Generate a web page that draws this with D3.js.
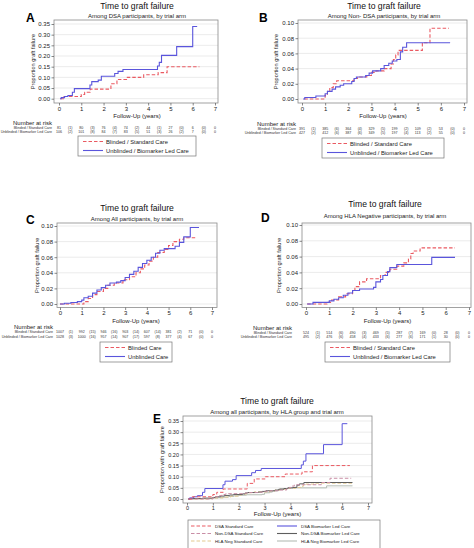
<!DOCTYPE html>
<html><head><meta charset="utf-8">
<script src="https://cdn.jsdelivr.net/npm/d3@7"></script>
<style>body{margin:0;background:#fff}svg{display:block;font-family:"Liberation Sans",Arial,sans-serif}</style>
</head><body><svg id="c" width="474" height="548"></svg>
<script>
// ---------------- DATA ----------------
const xTicks = [0,1,2,3,4,5,6,7];
const yTicksDSA = [0,0.05,0.10,0.15,0.20,0.25,0.30,0.35];
const yTicksSmall = [0,0.02,0.04,0.06,0.08,0.10];

// Panel A: DSA participants
const dsaStandard = [[0.05,0],[0.2,0.01],[1.0,0.02],[1.15,0.03],[1.4,0.045],[2.33,0.07],[2.6,0.09],[3.03,0.10],[3.8,0.112],[4.45,0.122],[4.85,0.15],[6.3,0.15]];
const dsaBiomarker = [[0.05,0],[0.1,0.005],[0.25,0.01],[0.4,0.015],[0.6,0.03],[0.69,0.047],[1.39,0.064],[1.47,0.08],[1.76,0.087],[1.9,0.105],[2.5,0.118],[2.65,0.128],[2.87,0.137],[4.42,0.153],[4.5,0.17],[4.6,0.203],[5.28,0.244],[6.0,0.338],[6.2,0.338]];
const riskA_std = [81,80,76,74,44,27,6,0];
const eventsA_std = [1,3,4,2,1,0,0];
const riskA_bio = [106,101,84,83,51,26,7,0];
const eventsA_bio = [2,8,7,5,3,2,0];

// Panel B: Non-DSA participants
const nonDsaStandard = [[0.1,0],[1.0,0.005],[1.1,0.01],[1.2,0.015],[1.35,0.02],[1.5,0.024],[2.25,0.027],[2.4,0.029],[2.8,0.031],[3.0,0.035],[3.2,0.037],[3.55,0.040],[3.85,0.046],[3.95,0.052],[4.05,0.058],[4.15,0.064],[5.2,0.074],[5.53,0.093],[6.35,0.093]];
const nonDsaBiomarker = [[0.05,0],[0.12,0.002],[0.6,0.004],[1.0,0.007],[1.1,0.01],[1.3,0.013],[1.45,0.016],[1.65,0.018],[1.8,0.02],[2.15,0.023],[2.25,0.027],[2.35,0.029],[2.75,0.031],[2.9,0.034],[3.05,0.037],[3.4,0.04],[3.55,0.044],[3.75,0.047],[3.9,0.05],[4.1,0.052],[4.25,0.062],[4.35,0.068],[4.52,0.074],[6.4,0.074]];
const riskB_std = [391,385,364,329,199,109,53,0];
const eventsB_std = [1,6,4,5,2,2,0];
const riskB_bio = [427,412,387,349,197,113,55,0];
const eventsB_bio = [2,6,6,5,4,2,0];

// Panel C: All participants
const allStandard = [[0.0,0],[1.1,0.003],[1.3,0.007],[1.5,0.012],[1.7,0.016],[2.0,0.02],[2.2,0.024],[2.5,0.027],[2.9,0.031],[3.2,0.035],[3.5,0.04],[3.7,0.045],[3.9,0.05],[4.1,0.055],[4.3,0.06],[4.5,0.066],[4.8,0.07],[5.0,0.075],[5.2,0.08],[5.5,0.083],[5.7,0.085],[6.3,0.085]];
const allBiomarker = [[0.0,0],[0.2,0.001],[0.5,0.002],[0.8,0.003],[1.0,0.005],[1.1,0.008],[1.3,0.01],[1.5,0.014],[1.7,0.018],[1.9,0.021],[2.1,0.024],[2.3,0.027],[2.6,0.028],[2.8,0.03],[3.0,0.034],[3.2,0.038],[3.4,0.042],[3.6,0.047],[3.8,0.052],[4.0,0.056],[4.2,0.06],[4.4,0.065],[4.6,0.069],[4.8,0.071],[5.3,0.074],[5.5,0.079],[5.7,0.086],[6.0,0.098],[6.4,0.098]];
const riskC_std = [1007,992,946,903,607,381,71,0];
const eventsC_std = [1,15,16,14,14,2,0];
const riskC_bio = [1028,1000,957,907,597,377,67,0];
const eventsC_bio = [3,16,14,17,8,4,0];

// Panel D: HLA negative participants
const hlaNegStandard = [[0.05,0],[0.9,0.002],[1.1,0.005],[1.4,0.009],[1.7,0.013],[2.0,0.017],[2.1,0.022],[2.3,0.028],[2.6,0.032],[3.2,0.036],[3.4,0.04],[3.6,0.044],[3.9,0.048],[4.2,0.052],[4.4,0.057],[4.5,0.064],[4.6,0.067],[4.9,0.071],[6.4,0.071]];
const hlaNegBiomarker = [[0.05,0],[0.3,0.002],[1.0,0.004],[1.2,0.006],[1.4,0.008],[1.6,0.011],[1.8,0.014],[2.0,0.017],[2.3,0.019],[2.9,0.021],[3.0,0.028],[3.2,0.031],[3.3,0.036],[3.5,0.041],[3.6,0.046],[3.9,0.05],[5.4,0.059],[6.4,0.059]];
const riskD_std = [524,514,490,469,287,169,28,0];
const eventsD_std = [1,6,3,5,7,0,0];
const riskD_bio = [495,476,458,433,277,171,30,0];
const eventsD_bio = [2,6,4,6,6,1,0];

const armLabels = ["Blinded / Standard Care","Unblinded / Biomarker Led Care"];
const armLabelsC = ["Blinded Care","Unblinded Care"];
const groupLabelsE = ["DSA Standard Care","DSA Biomarker Led Care","Non-DSA Standard Care","Non-DSA Biomarker Led Care","HLA Neg Standard Care","HLA Neg Biomarker Led Care"];

// ---------------- STYLE ----------------
const RED = "#ea5a62", BLUE = "#5a55dc";
const DASH = "3.5,2";
const FONT = '"Liberation Sans",Arial,sans-serif';
const svg = d3.select("#c");

function panel(c) {
  const g = svg.append("g");
  const x = d3.scaleLinear().domain([0,7]).range(c.xr);
  const y = d3.scaleLinear().domain([0,c.yMax]).range(c.yr);
  const [fx0,fy0,fx1,fy1] = c.frame;
  // grid
  g.selectAll(".grid").data(c.yTicks).join("line")
    .attr("x1",fx0).attr("x2",fx1).attr("y1",d=>y(d)).attr("y2",d=>y(d))
    .attr("stroke","#e6e6e6").attr("stroke-width",0.8);
  // frame
  g.append("rect").attr("x",fx0).attr("y",fy0).attr("width",fx1-fx0).attr("height",fy1-fy0)
    .attr("fill","none").attr("stroke","#8a8a8a").attr("stroke-width",0.8);
  // axes
  const ya = g.append("g").attr("transform",`translate(${fx0},0)`)
    .call(d3.axisLeft(y).tickValues(c.yTicks).tickSize(2.5).tickPadding(1.5).tickFormat(d3.format(".2f")));
  const xa = g.append("g").attr("transform",`translate(0,${fy1})`)
    .call(d3.axisBottom(x).tickValues(xTicks).tickSize(2.5).tickPadding(1).tickFormat(d3.format("d")));
  [ya,xa].forEach(a=>{a.select(".domain").remove();
    a.selectAll("line").attr("stroke","#555").attr("stroke-width",0.7);
    a.selectAll("text").attr("font-size",c.tickFs||6).attr("fill","#222").attr("font-family",FONT);});
  // lines
  const line = d3.line().x(d=>x(d[0])).y(d=>y(d[1])).curve(d3.curveStepAfter);
  c.series.forEach(s=>{
    g.append("path").attr("d",line(s.data)).attr("fill","none").attr("stroke",s.color)
      .attr("stroke-width",s.w||1.1).attr("stroke-dasharray",s.dash?DASH:null);
  });
  // titles
  g.append("text").attr("x",c.tx).attr("y",c.ty).attr("text-anchor","middle").attr("font-size",8.6).attr("fill","#111").text("Time to graft failure");
  g.append("text").attr("x",c.tx).attr("y",c.sy).attr("text-anchor","middle").attr("font-size",6).attr("fill","#222").text(c.subtitle);
  g.append("text").attr("x",c.lx).attr("y",c.ly).attr("font-size",12).attr("font-weight","bold").attr("fill","#000").text(c.letter);
  g.append("text").attr("transform",`translate(${c.ylx},${(fy0+fy1)/2}) rotate(-90)`).attr("text-anchor","middle")
    .attr("font-size",5.6).attr("fill","#222").text(c.ylabel);
  g.append("text").attr("x",(x(0)+x(7))/2).attr("y",c.xty).attr("text-anchor","middle").attr("font-size",6).attr("fill","#222").text("Follow-Up (years)");
  // risk table
  if (c.risk) {
    const r = c.risk;
    g.append("text").attr("x",r.lx).attr("y",r.hy).attr("text-anchor","end").attr("font-size",6).attr("fill","#222").text("Number at risk");
    r.rows.forEach((row,i)=>{
      const yy = r.ry[i];
      g.append("text").attr("x",r.lx).attr("y",yy).attr("text-anchor","end").attr("font-size",3.6).attr("fill","#333").text(armLabels[i]);
      g.selectAll(null).data(row.n).join("text").attr("x",(d,j)=>x(j)).attr("y",yy).attr("text-anchor","middle")
        .attr("font-size",3.6).attr("fill","#333").text(d=>d);
      g.selectAll(null).data(row.e).join("text").attr("x",(d,j)=>x(j+0.5)).attr("y",yy).attr("text-anchor","middle")
        .attr("font-size",3.6).attr("fill","#333").text(d=>`(${d})`);
    });
  }
  // legend
  if (c.legend) {
    const L = c.legend;
    const cols = L.cols || 1, colW = L.colW || 0;
    g.append("rect").attr("x",L.x).attr("y",L.y).attr("width",L.w).attr("height",L.h)
      .attr("fill","#fff").attr("stroke","#777").attr("stroke-width",0.7);
    L.items.forEach((it,i)=>{
      const col = i%cols, row = Math.floor(i/cols);
      const ix = L.x + L.pad + col*colW, iy = L.y + L.first + row*L.rowH;
      g.append("line").attr("x1",ix).attr("x2",ix+L.lineW).attr("y1",iy).attr("y2",iy)
        .attr("stroke",it.color).attr("stroke-width",1.1).attr("stroke-dasharray",it.dash?DASH:null);
      g.append("text").attr("x",ix+L.lineW+L.gap).attr("y",iy).attr("dy","0.35em").attr("font-size",L.fs)
        .attr("fill","#222").text(it.label);
    });
  }
}

// Panel A
panel({letter:"A",lx:26,ly:22,subtitle:"Among DSA participants, by trial arm",tx:137,ty:9,sy:17.5,
  frame:[54,20,218,103],xr:[59,215],yr:[98.7,24],yMax:0.35,yTicks:yTicksDSA,ylx:35,ylabel:"Proportion graft failure",xty:117.5,
  series:[{data:dsaStandard,color:RED,dash:true},{data:dsaBiomarker,color:BLUE}],
  risk:{lx:52,hy:124.5,ry:[128.5,133],rows:[{n:riskA_std,e:eventsA_std},{n:riskA_bio,e:eventsA_bio}]},
  legend:{x:78,y:136,w:118,h:20,pad:5,first:5.5,rowH:9,lineW:20,gap:3,fs:5.8,items:[{label:armLabels[0],color:RED,dash:true},{label:armLabels[1],color:BLUE}]}
});
// Panel B
panel({letter:"B",lx:259,ly:22,subtitle:"Among Non- DSA participants, by trial arm",tx:384,ty:9,sy:17.5,
  frame:[298,20,467,103],xr:[302,464],yr:[99,23],yMax:0.10,yTicks:yTicksSmall,ylx:278,ylabel:"Proportion graft failure",xty:118,
  series:[{data:nonDsaStandard,color:RED,dash:true},{data:nonDsaBiomarker,color:BLUE}],
  risk:{lx:296,hy:125.5,ry:[129.5,134],rows:[{n:riskB_std,e:eventsB_std},{n:riskB_bio,e:eventsB_bio}]},
  legend:{x:322,y:138,w:122,h:20,pad:5,first:5.5,rowH:9,lineW:20,gap:3,fs:5.8,items:[{label:armLabels[0],color:RED,dash:true},{label:armLabels[1],color:BLUE}]}
});
// Panel C
panel({letter:"C",lx:26,ly:224,subtitle:"Among All participants, by trial arm",tx:137,ty:211,sy:221,
  frame:[57,223,217,307.5],xr:[60,212],yr:[304,226],yMax:0.10,yTicks:yTicksSmall,ylx:39,ylabel:"Proportion graft failure",xty:322.5,
  series:[{data:allStandard,color:RED,dash:true},{data:allBiomarker,color:BLUE}],
  risk:{lx:53,hy:329,ry:[333,337.5],rows:[{n:riskC_std,e:eventsC_std},{n:riskC_bio,e:eventsC_bio}]},
  legend:{x:100,y:342,w:72,h:20,pad:5,first:5.5,rowH:9,lineW:20,gap:3,fs:5.8,items:[{label:armLabelsC[0],color:RED,dash:true},{label:armLabelsC[1],color:BLUE}]}
});
// Panel D
panel({letter:"D",lx:261,ly:222,subtitle:"Among HLA Negative participants, by trial arm",tx:385,ty:207,sy:218,
  frame:[302,223,471,307.5],xr:[306,469],yr:[304,225],yMax:0.10,yTicks:yTicksSmall,ylx:281,ylabel:"Proportion graft failure",xty:323,
  series:[{data:hlaNegStandard,color:RED,dash:true},{data:hlaNegBiomarker,color:BLUE}],
  risk:{lx:292,hy:330,ry:[334,338],rows:[{n:riskD_std,e:eventsD_std},{n:riskD_bio,e:eventsD_bio}]},
  legend:{x:325,y:342,w:125,h:20,pad:5,first:5.5,rowH:9,lineW:20,gap:3,fs:5.8,items:[{label:armLabels[0],color:RED,dash:true},{label:armLabels[1],color:BLUE}]}
});
// Panel E
const colE = [RED,BLUE,"#c98ea6","#5e5e5e","#e3c98e","#b4bcb4"];
const dataE = [dsaStandard,dsaBiomarker,nonDsaStandard,nonDsaBiomarker,hlaNegStandard,hlaNegBiomarker];
panel({letter:"E",lx:153,ly:423,subtitle:"Among all participants, by HLA group and trial arm",tx:277,ty:404,sy:414,
  frame:[183,416,372,503],xr:[187,368],yr:[499,421],yMax:0.35,yTicks:yTicksDSA,ylx:164,ylabel:"Proportion with graft failure",xty:516,tickFs:5.5,
  series:dataE.map((d,i)=>({data:d,color:colE[i],dash:i%2===0,w:1})).reverse(),
  legend:{x:188,y:520,w:192,h:34,pad:3,first:6,rowH:7.5,cols:2,colW:86,lineW:20,gap:4,fs:4.4,
    items:groupLabelsE.map((l,i)=>({label:l,color:colE[i],dash:i%2===0}))}
});
</script></body></html>
